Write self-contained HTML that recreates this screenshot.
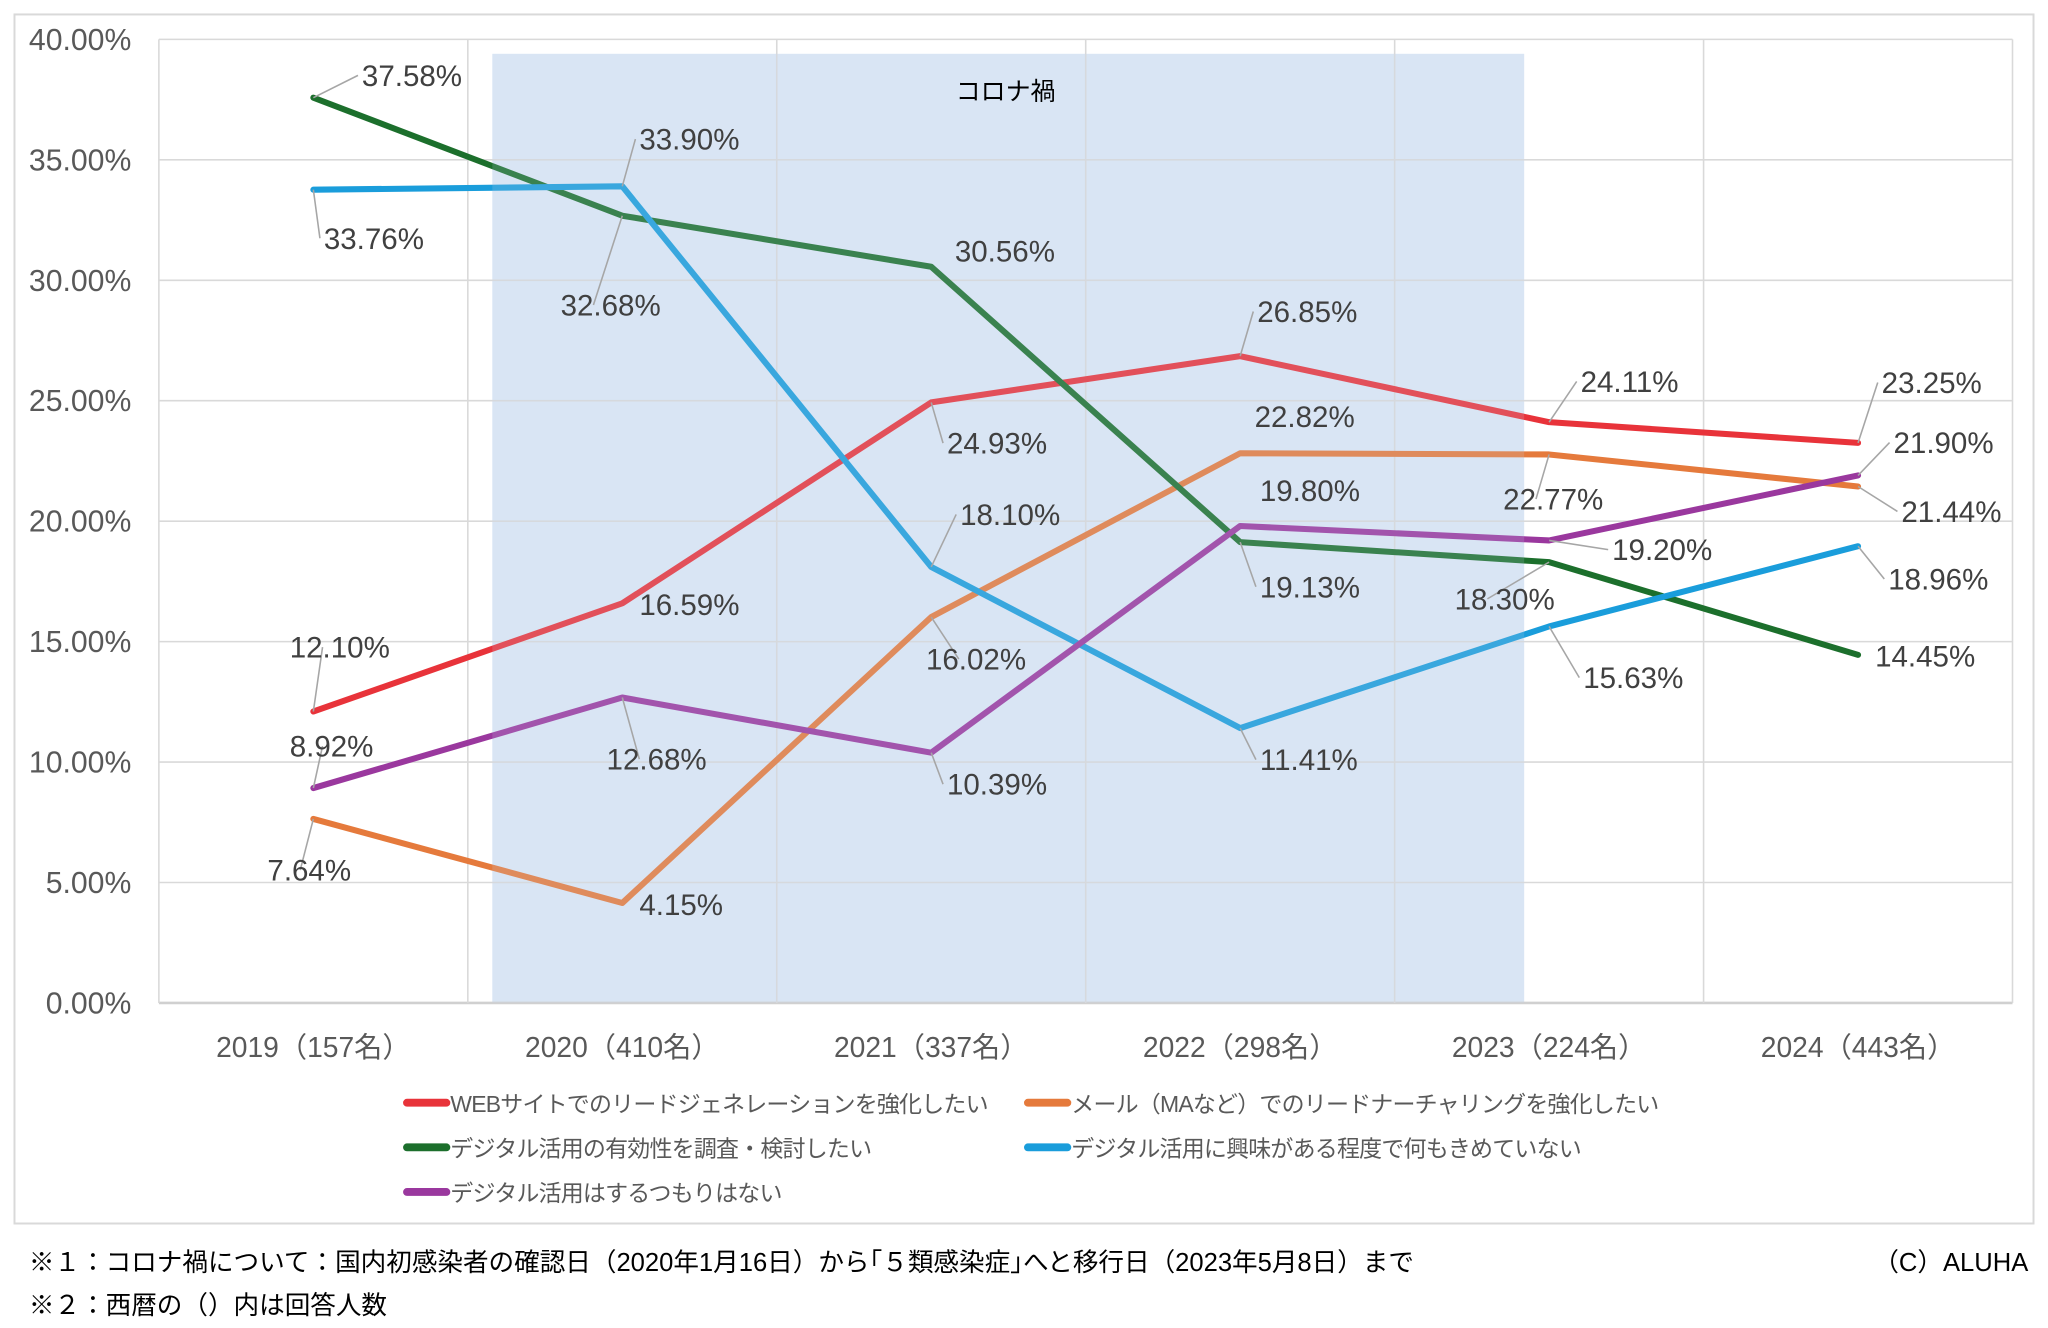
<!DOCTYPE html>
<html><head><meta charset="utf-8"><style>
html,body{margin:0;padding:0;background:#fff}
svg{display:block;font-family:"Liberation Sans","Noto Sans CJK JP",sans-serif}
</style></head><body>
<svg id="chart" width="2048" height="1328" viewBox="0 0 1560 1011.6" xmlns="http://www.w3.org/2000/svg">
<rect x="11" y="11" width="1538" height="921" fill="#fff" stroke="#d9d9d9" stroke-width="1.5"/>
<rect x="375" y="41" width="786" height="723" fill="#dde8f6"/>
<g id="grid"></g>
<g id="lines"></g>
<rect x="375" y="41" width="786" height="723" fill="#c8daf0" opacity="0.18"/>
<text x="766" y="76" font-size="19" text-anchor="middle" fill="#000">コロナ禍</text>
<g id="labels"></g>
<g id="legend"></g>
<text x="22" y="968" font-size="19.5" fill="#000">※１：コロナ禍について：国内初感染者の確認日（2020年1月16日）から｢５類感染症｣へと移行日（2023年5月8日）まで</text>
<text x="22" y="1001" font-size="19.5" fill="#000">※２：西暦の（）内は回答人数</text>
<text x="1545" y="968" font-size="19.5" text-anchor="end" fill="#000">（C）ALUHA</text>
</svg>
<script>
const categories = ["2019（157名）","2020（410名）","2021（337名）","2022（298名）","2023（224名）","2024（443名）"];
const yTicks = [0,5,10,15,20,25,30,35,40];
const seriesNames = ["WEBサイトでのリードジェネレーションを強化したい","メール（MAなど）でのリードナーチャリングを強化したい","デジタル活用の有効性を調査・検討したい","デジタル活用に興味がある程度で何もきめていない","デジタル活用はするつもりはない"];
const webLeadGen = [12.10,16.59,24.93,26.85,24.11,23.25];
const mailNurture = [7.64,4.15,16.02,22.82,22.77,21.44];
const studyEffect = [37.58,32.68,30.56,19.13,18.30,14.45];
const interestOnly = [33.76,33.90,18.10,11.41,15.63,18.96];
const noPlan = [8.92,12.68,10.39,19.80,19.20,21.90];

const NS="http://www.w3.org/2000/svg";
const L=121,R=1533,T=30,B=764;
const colW=(R-L)/categories.length;
const xs=i=>L+colW*(i+0.5);
const ys=v=>B-(v/40)*(B-T);
function mk(tag,attrs,parent){const e=document.createElementNS(NS,tag);for(const k in attrs)e.setAttribute(k,attrs[k]);parent.appendChild(e);return e;}
const grid=document.getElementById('grid');
yTicks.forEach(t=>{
  const ln=mk('line',{x1:L,x2:R,y1:ys(t),y2:ys(t),stroke:t===0?'#d0d0d0':'#d9d9d9','stroke-width':t===0?2:1.2},grid);
  
  
  const tx=mk('text',{x:100,y:ys(t)+8,'font-size':23,'text-anchor':'end',fill:'#595959'},grid);
  tx.textContent=t.toFixed(2)+'%';
  
  
});
for(let i=0;i<=categories.length;i++){
  const ln=mk('line',{x1:L+colW*i,x2:L+colW*i,y1:T,y2:B,stroke:'#d9d9d9','stroke-width':1.2},grid);
  
  
}
categories.forEach((c,i)=>{
  const tx=mk('text',{x:xs(i),y:805,'font-size':21.5,'text-anchor':'middle',fill:'#595959'},grid);
  tx.textContent=c;
  
  
});
const allSeries=[webLeadGen,mailNurture,studyEffect,interestOnly,noPlan];
const colors=['#e8333a','#e57a3c','#1c6f2c','#1a9ddb','#9a389e'];
const keys=['web-lead-gen','mail-nurture','study-effect','interest-only','no-plan'];
const offs=[
 [[-18,-41],[13,9],[12,39],[13,-26],[24,-23],[18,-38]],
 [[-35,47],[13,9],[-4,40],[11,-20],[-35,42],[33,27]],
 [[37,-9],[-47,76],[18,-4],[15,42],[-72,36],[13,9]],
 [[8,45],[13,-28],[22,-32],[15,32],[26,47],[23,33]],
 [[-18,-24],[-12,55],[12,32],[15,-19],[48,15],[27,-17]]
];
const linesG=document.getElementById('lines'),labG=document.getElementById('labels');
allSeries.forEach((s,si)=>{
  const p=mk('polyline',{points:s.map((v,i)=>xs(i)+','+ys(v)).join(' '),fill:'none',stroke:colors[si],'stroke-width':4.6,'stroke-linejoin':'round','stroke-linecap':'round'},linesG);
  
  
  s.forEach((v,i)=>{
    const px=xs(i),py=ys(v),o=offs[si][i];
    const tx=px+o[0],ty=py+o[1];
    if(Math.hypot(o[0],o[1])>25){
      const ly=ty-8,lx=o[0]<0?tx+25:tx-3;
      const ln=mk('polyline',{points:`${px},${py} ${lx},${ly}`,fill:'none',stroke:'#a6a6a6','stroke-width':1.2},labG);
      
      
    }
    const t=mk('text',{x:tx,y:ty,'font-size':22.5,fill:'#404040'},labG);
    t.textContent=v.toFixed(2)+'%';
    
    
  });
});
const legPos=[[310,840],[783,840],[310,874],[783,874],[310,908]];
const legG=document.getElementById('legend');
seriesNames.forEach((n,i)=>{
  const g=mk('g',{},legG);
  
  
  mk('line',{x1:legPos[i][0],x2:legPos[i][0]+30,y1:legPos[i][1],y2:legPos[i][1],stroke:colors[i],'stroke-width':6,'stroke-linecap':'round'},g);
  const t=mk('text',{x:legPos[i][0]+33,y:legPos[i][1]+7,'font-size':17.5,'letter-spacing':'-0.6',fill:'#595959'},g);
  t.textContent=n;
});
</script>
</body></html>
